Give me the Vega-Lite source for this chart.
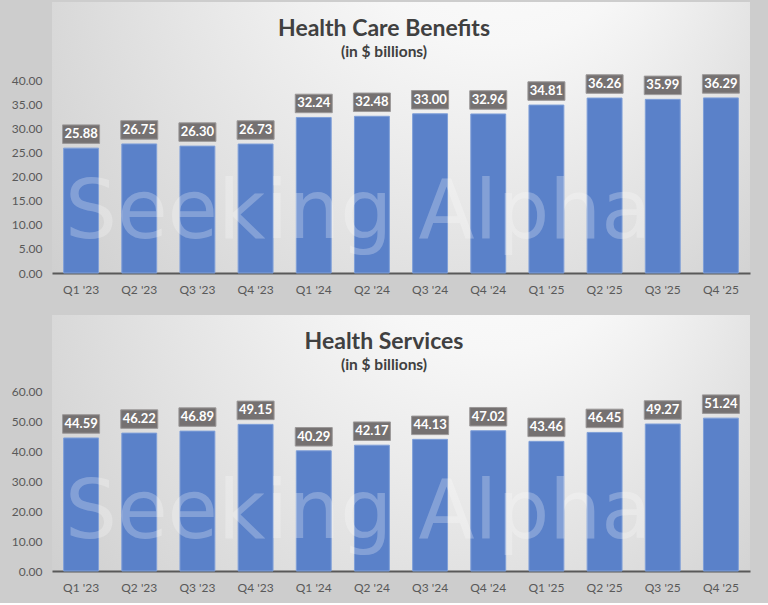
{
  "$schema": "https://vega.github.io/schema/vega-lite/v6.json",
  "background": "#cdcdcd",
  "padding": {"left": 11, "top": 2, "right": 19, "bottom": 10},
  "spacing": 20,
  "datasets": {
    "hcb": [
      {"q": "Q1 '23", "v": 25.88},
      {"q": "Q2 '23", "v": 26.75},
      {"q": "Q3 '23", "v": 26.30},
      {"q": "Q4 '23", "v": 26.73},
      {"q": "Q1 '24", "v": 32.24},
      {"q": "Q2 '24", "v": 32.48},
      {"q": "Q3 '24", "v": 33.00},
      {"q": "Q4 '24", "v": 32.96},
      {"q": "Q1 '25", "v": 34.81},
      {"q": "Q2 '25", "v": 36.26},
      {"q": "Q3 '25", "v": 35.99},
      {"q": "Q4 '25", "v": 36.29}
    ],
    "hs": [
      {"q": "Q1 '23", "v": 44.59},
      {"q": "Q2 '23", "v": 46.22},
      {"q": "Q3 '23", "v": 46.89},
      {"q": "Q4 '23", "v": 49.15},
      {"q": "Q1 '24", "v": 40.29},
      {"q": "Q2 '24", "v": 42.17},
      {"q": "Q3 '24", "v": 44.13},
      {"q": "Q4 '24", "v": 47.02},
      {"q": "Q1 '25", "v": 43.46},
      {"q": "Q2 '25", "v": 46.45},
      {"q": "Q3 '25", "v": 49.27},
      {"q": "Q4 '25", "v": 51.24}
    ]
  },
  "vconcat": [
    {
      "width": 698,
      "height": 271,
      "data": {"name": "hcb"},
      "title": {"text": "Health Care Benefits", "subtitle": "(in $ billions)", "offset": -58, "dx": -17},
      "encoding": {
        "x": {"field": "q", "type": "nominal", "sort": null, "scale": {"paddingInner": 0.4, "paddingOuter": 0.2}}
      },
      "layer": [
        {
          "mark": {"type": "bar", "color": "#5a81c9", "stroke": "#7f9fd8", "strokeWidth": 1},
          "encoding": {
            "y": {"field": "v", "type": "quantitative", "scale": {"domain": [0, 56.17], "nice": false},
                  "axis": {"values": [0, 5, 10, 15, 20, 25, 30, 35, 40], "format": ".2f", "labelOverlap": false}}
          }
        },
        {
          "data": {"values": [{"label": "Seeking Alpha"}]},
          "mark": {"type": "text", "font": "DejaVu Sans", "fontSize": 82, "color": "#ffffff", "opacity": 0.25, "align": "left", "baseline": "alphabetic", "dx": -16},
          "encoding": {
            "x": {"datum": "Q1 '23"},
            "y": {"datum": 7.2, "axis": {"values": [0, 5, 10, 15, 20, 25, 30, 35, 40], "format": ".2f", "labelOverlap": false}},
            "text": {"field": "label"}
          }
        },
        {
          "mark": {"type": "point", "shape": "M-1,-0.5L1,-0.5L1,0.5L-1,0.5Z", "filled": true, "size": 1369, "color": "#757171", "stroke": "#9b9898", "strokeWidth": 1, "opacity": 1, "yOffset": -14},
          "encoding": {
            "y": {"field": "v", "type": "quantitative", "axis": {"values": [0, 5, 10, 15, 20, 25, 30, 35, 40], "format": ".2f", "labelOverlap": false}}
          }
        },
        {
          "mark": {"type": "text", "font": "Lato", "fontSize": 13, "fontWeight": "bold", "color": "#ffffff", "baseline": "middle", "align": "center", "yOffset": -14},
          "encoding": {
            "y": {"field": "v", "type": "quantitative", "axis": {"values": [0, 5, 10, 15, 20, 25, 30, 35, 40], "format": ".2f", "labelOverlap": false}},
            "text": {"field": "v", "type": "quantitative", "format": ".2f"}
          }
        }
      ]
    },
    {
      "width": 698,
      "height": 256,
      "data": {"name": "hs"},
      "title": {"text": "Health Services", "subtitle": "(in $ billions)", "offset": -58, "dx": -17},
      "encoding": {
        "x": {"field": "q", "type": "nominal", "sort": null, "scale": {"paddingInner": 0.4, "paddingOuter": 0.2}}
      },
      "layer": [
        {
          "mark": {"type": "bar", "color": "#5a81c9", "stroke": "#7f9fd8", "strokeWidth": 1},
          "encoding": {
            "y": {"field": "v", "type": "quantitative", "scale": {"domain": [0, 85.81], "nice": false},
                  "axis": {"values": [0, 10, 20, 30, 40, 50, 60], "format": ".2f", "labelOverlap": false}}
          }
        },
        {
          "data": {"values": [{"label": "Seeking Alpha"}]},
          "mark": {"type": "text", "font": "DejaVu Sans", "fontSize": 82, "color": "#ffffff", "opacity": 0.25, "align": "left", "baseline": "alphabetic", "dx": -16},
          "encoding": {
            "x": {"datum": "Q1 '23"},
            "y": {"datum": 11.0, "axis": {"values": [0, 10, 20, 30, 40, 50, 60], "format": ".2f", "labelOverlap": false}},
            "text": {"field": "label"}
          }
        },
        {
          "mark": {"type": "point", "shape": "M-1,-0.5L1,-0.5L1,0.5L-1,0.5Z", "filled": true, "size": 1369, "color": "#757171", "stroke": "#9b9898", "strokeWidth": 1, "opacity": 1, "yOffset": -14},
          "encoding": {
            "y": {"field": "v", "type": "quantitative", "axis": {"values": [0, 10, 20, 30, 40, 50, 60], "format": ".2f", "labelOverlap": false}}
          }
        },
        {
          "mark": {"type": "text", "font": "Lato", "fontSize": 13, "fontWeight": "bold", "color": "#ffffff", "baseline": "middle", "align": "center", "yOffset": -14},
          "encoding": {
            "y": {"field": "v", "type": "quantitative", "axis": {"values": [0, 10, 20, 30, 40, 50, 60], "format": ".2f", "labelOverlap": false}},
            "text": {"field": "v", "type": "quantitative", "format": ".2f"}
          }
        }
      ]
    }
  ],
  "config": {
    "font": "Lato",
    "view": {
      "stroke": null,
      "fill": {
        "gradient": "radial",
        "x1": 0.7, "y1": 0.05, "r1": 0,
        "x2": 0.5, "y2": 0.35, "r2": 0.75,
        "stops": [
          {"offset": 0, "color": "#ffffff"},
          {"offset": 0.3, "color": "#f7f7f7"},
          {"offset": 1, "color": "#c6c6c6"}
        ]
      }
    },
    "axis": {"labelFont": "Lato", "labelFontSize": 12, "labelColor": "#595959", "ticks": false, "grid": false, "title": null},
    "axisY": {"domain": false, "labelPadding": 10},
    "axisX": {"domainColor": "#595959", "domainWidth": 2, "labelAngle": 0, "labelPadding": 11},
    "title": {
      "font": "Lato", "fontSize": 23, "fontWeight": "bold", "color": "#404040",
      "subtitleFont": "Lato", "subtitleFontSize": 15.5, "subtitleFontWeight": "bold", "subtitleColor": "#404040",
      "subtitlePadding": 4, "anchor": "middle", "frame": "group"
    }
  }
}
